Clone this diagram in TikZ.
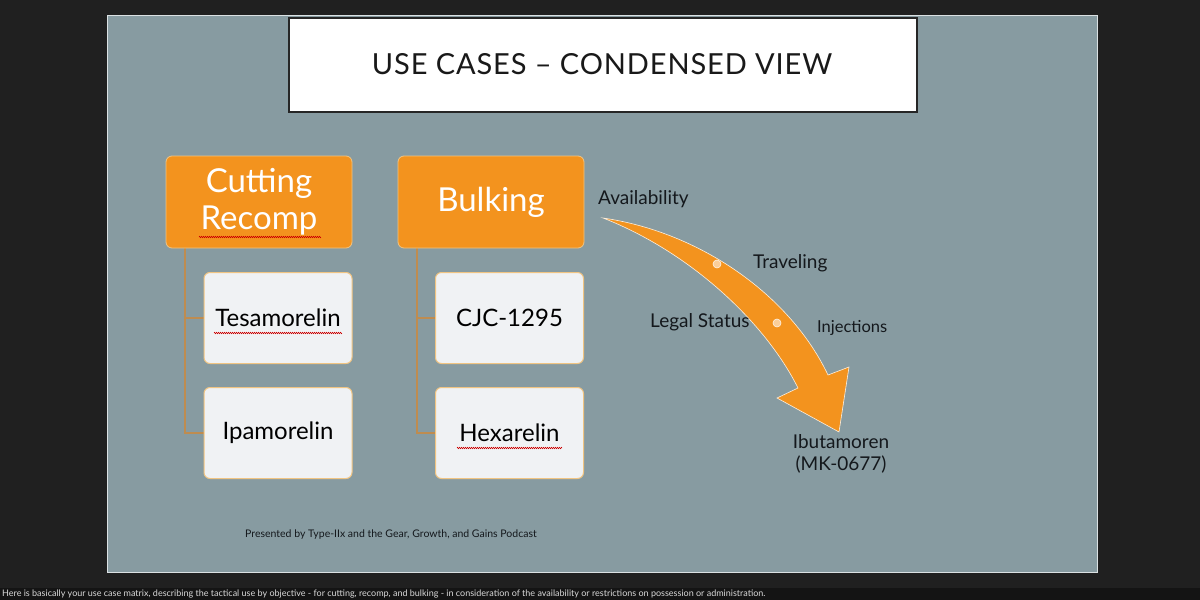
\documentclass[tikz,border=0pt]{standalone}
\usepackage{fontspec}
\setmainfont{Lato}
\newfontfamily\titlefont[LetterSpace=3]{Lato}
\usetikzlibrary{decorations.pathmorphing}
\definecolor{bgdark}{RGB}{32,32,32}
\definecolor{slide}{RGB}{135,155,161}
\definecolor{orng}{RGB}{243,147,30}
\definecolor{childfill}{RGB}{240,242,244}
\definecolor{childedge}{RGB}{240,196,130}
\definecolor{linkc}{RGB}{190,140,80}
\definecolor{txt}{RGB}{20,24,28}
\tikzset{
  head/.style={draw=childedge, line width=0.8pt, fill=orng, rounded corners=6pt,
    minimum width=186pt, minimum height=92pt, text=white, align=center,
    font=\fontsize{33}{37}\selectfont, inner sep=0pt},
  child/.style={draw=childedge, line width=1pt, fill=childfill, rounded corners=6pt,
    minimum width=148pt, minimum height=91pt, text=black, align=center,
    font=\fontsize{24}{28}\selectfont, inner sep=0pt},
  link/.style={draw=linkc, line width=1.4pt},
  lab/.style={text=txt, font=\fontsize{19}{23}\selectfont, inner sep=0pt},
  squig/.style={draw=red!80!black, line width=0.5pt, decorate,
    decoration={zigzag, amplitude=0.7pt, segment length=2pt}},
  dot/.style={circle, fill=orng!45!white, draw=white!90!orng, line width=0.6pt, minimum size=8pt, inner sep=0pt}
}
\begin{document}
\begin{tikzpicture}[x=1pt,y=-1pt]
\useasboundingbox (0,0) rectangle (1200,600);
\clip (0,0) rectangle (1200,600);
% background
\fill[bgdark] (0,0) rectangle (1200,600);
\fill[black,opacity=0.35] (0,588) rectangle (1200,600);
% slide
\fill[slide] (107,15) rectangle (1098,573);
\draw[white!70!slide, line width=0.8pt] (107.5,15.5) rectangle (1097.5,572.5);
% title
\node[draw=black!85, line width=2pt, fill=white, minimum width=628pt, minimum height=94pt, inner sep=0pt] (title) at (602.5,64.5) {};
\node[font=\titlefont\fontsize{29}{34}\selectfont, text=black!90, inner sep=0pt] (titletext) at (602,64) {USE CASES – CONDENSED VIEW};
% connectors
\coordinate (c1) at (185,248);
\coordinate (c2) at (417,248);
\coordinate (t1) at (204,318);
\coordinate (t2) at (204,433);
\coordinate (b1) at (436,318);
\coordinate (b2) at (436,433);
\draw[link] (c1) |- (t1);
\draw[link] (c1) |- (t2);
\draw[link] (c2) |- (b1);
\draw[link] (c2) |- (b2);
% heads
\node[head] (cut) at (259,202) {Cutting\\Recomp};
\node[head] (bulk) at (491,202) {Bulking};
% children
\node[child] (tesa) at (278,318) {Tesamorelin};
\node[child] (ipa) at (278,433) {Ipamorelin};
\node[child] (cjc) at (509.5,318) {CJC-1295};
\node[child] (hexa) at (509.5,433) {Hexarelin};
% squiggles (spell check)
\draw[squig] (199,237) -- (321,237);
\draw[squig] (214,333) -- (342,333);
\draw[squig] (457,448) -- (562,448);
% curved arrow
\coordinate (tail) at (603,218);
\fill[orng, draw=white!85!orng, line width=0.6pt]
  (tail) .. controls (700,232) and (790,295) .. (828,375)
  -- (849,367) -- (839,432) -- (777,398) -- (798,388)
  .. controls (765,322) and (690,252) .. (tail) -- cycle;
\node[dot] (d1) at (717,264) {};
\node[dot] (d2) at (777,323) {};
% labels
\node[lab, anchor=west] (avail) at (598,199) {Availability};
\node[lab, anchor=west] (trav) at (753,263) {Traveling};
\node[lab, anchor=west] (legal) at (650,322) {Legal Status};
\node[lab, anchor=west, font=\fontsize{16.5}{20}\selectfont] (inj) at (817,328) {Injections};
\node[lab, align=center, font=\fontsize{19}{22}\selectfont] (ibu) at (841,454) {Ibutamoren\\(MK-0677)};
% footer
\node[text=txt, font=\fontsize{10.5}{12}\selectfont, anchor=west, inner sep=0pt] (foot) at (245,535) {Presented by Type-IIx and the Gear, Growth, and Gains Podcast};
% caption
\node[text=white!85!black, font=\fontsize{9}{10}\selectfont, anchor=south west, inner sep=0pt] (cap) at (2,598.5) {Here is basically your use case matrix, describing the tactical use by objective - for cutting, recomp, and bulking - in consideration of the availability or restrictions on possession or administration.};
\end{tikzpicture}
\end{document}
